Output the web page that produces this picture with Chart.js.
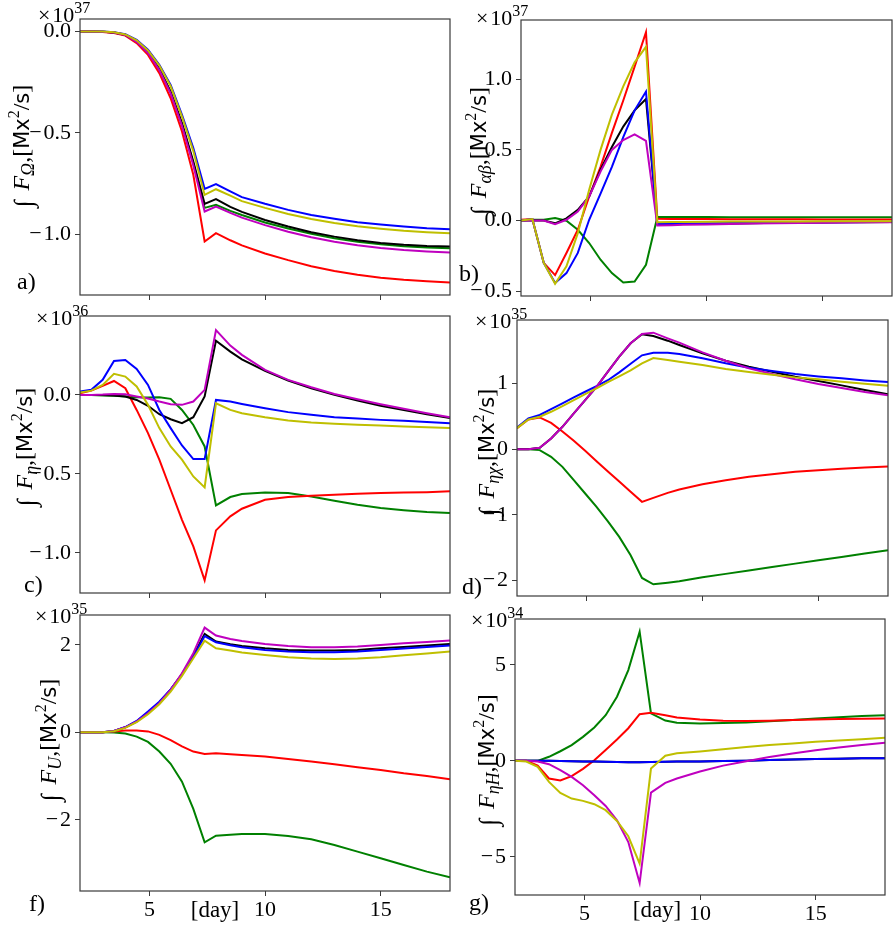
<!DOCTYPE html>
<html>
<head>
<meta charset="utf-8">
<script src="https://cdn.jsdelivr.net/npm/chart.js@4.4.0/dist/chart.umd.min.js"></script>
<style>
  body { margin: 0; background: #fff; }
  #wrap { position: relative; width: 895px; height: 928px; background: #fff; }
  #wrap canvas { position: absolute; left: 0; top: 0; }
</style>
</head>
<body>
<div id="wrap">
  <canvas id="pa" width="895" height="928"></canvas>
  <canvas id="pb" width="895" height="928"></canvas>
  <canvas id="pc" width="895" height="928"></canvas>
  <canvas id="pd" width="895" height="928"></canvas>
  <canvas id="pf" width="895" height="928"></canvas>
  <canvas id="pg" width="895" height="928"></canvas>
</div>
<script>
// time axis [day]
const days = [2.0, 2.49, 2.98, 3.47, 3.96, 4.45, 4.94, 5.43, 5.92, 6.41, 6.9, 7.39, 7.88, 8.5, 9, 10, 11, 12, 13, 14, 15, 16, 17, 18];

// a) F_Omega  (x1e37)
const omBlue    = [0, 0, 0, -0.003, -0.013, -0.041, -0.09, -0.164, -0.263, -0.411, -0.575, -0.776, -0.753, -0.789, -0.817, -0.85, -0.88, -0.905, -0.924, -0.941, -0.952, -0.962, -0.97, -0.975];
const omYellow  = [0, 0, 0, -0.003, -0.014, -0.043, -0.093, -0.168, -0.27, -0.42, -0.59, -0.806, -0.778, -0.81, -0.837, -0.87, -0.9, -0.925, -0.945, -0.961, -0.973, -0.983, -0.99, -0.995];
const omBlack   = [0, 0, -0.001, -0.005, -0.016, -0.049, -0.102, -0.184, -0.296, -0.452, -0.641, -0.85, -0.827, -0.865, -0.89, -0.93, -0.962, -0.99, -1.012, -1.03, -1.043, -1.052, -1.058, -1.061];
const omGreen   = [0, 0, -0.001, -0.005, -0.017, -0.05, -0.104, -0.187, -0.3, -0.458, -0.65, -0.87, -0.855, -0.885, -0.905, -0.942, -0.972, -0.998, -1.02, -1.037, -1.05, -1.059, -1.065, -1.069];
const omMagenta = [0, 0, -0.001, -0.005, -0.017, -0.051, -0.106, -0.19, -0.305, -0.465, -0.66, -0.888, -0.864, -0.895, -0.918, -0.955, -0.988, -1.015, -1.037, -1.055, -1.068, -1.078, -1.085, -1.09];
const omRed     = [0, 0, -0.002, -0.007, -0.02, -0.057, -0.115, -0.205, -0.329, -0.493, -0.707, -1.036, -0.995, -1.03, -1.055, -1.095, -1.128, -1.158, -1.182, -1.2, -1.215, -1.225, -1.232, -1.238];

// b) F_alpha beta  (x1e37)
const abRed     = [0.005, 0.01, -0.30, -0.387, -0.23, -0.066, 0.17, 0.38, 0.62, 0.85, 1.09, 1.333, 0.012, 0.011, 0.011, 0.01, 0.009, 0.009, 0.008, 0.008, 0.007, 0.007, 0.006, 0.006];
const abYellow  = [0, 0.01, -0.30, -0.448, -0.325, -0.09, 0.217, 0.5, 0.75, 0.95, 1.12, 1.23, -0.012, -0.01, -0.01, -0.009, -0.008, -0.008, -0.007, -0.007, -0.006, -0.006, -0.005, -0.005];
const abBlue    = [0, 0.01, -0.30, -0.443, -0.373, -0.23, 0.005, 0.19, 0.38, 0.59, 0.78, 0.913, -0.025, -0.024, -0.023, -0.021, -0.019, -0.017, -0.016, -0.014, -0.013, -0.012, -0.011, -0.01];
const abBlack   = [0, 0, 0, -0.02, 0.015, 0.075, 0.17, 0.36, 0.52, 0.665, 0.78, 0.86, -0.027, -0.026, -0.025, -0.023, -0.021, -0.019, -0.017, -0.015, -0.014, -0.013, -0.012, -0.011];
const abMagenta = [0, 0, 0, -0.026, 0.005, 0.064, 0.17, 0.347, 0.5, 0.57, 0.61, 0.564, -0.035, -0.033, -0.031, -0.028, -0.025, -0.022, -0.02, -0.018, -0.016, -0.014, -0.013, -0.012];
const abGreen   = [0, 0.005, 0.005, 0.017, -0.002, -0.066, -0.16, -0.278, -0.373, -0.439, -0.432, -0.314, 0.024, 0.024, 0.024, 0.024, 0.023, 0.023, 0.023, 0.023, 0.022, 0.022, 0.022, 0.022];

// c) F_eta  (x1e36)
const etRed     = [0.01, 0.027, 0.057, 0.088, 0.042, -0.095, -0.242, -0.41, -0.6, -0.79, -0.958, -1.173, -0.857, -0.768, -0.72, -0.663, -0.646, -0.638, -0.632, -0.625, -0.621, -0.617, -0.615, -0.61];
const etGreen   = [0, 0, -0.004, -0.006, -0.01, -0.015, -0.017, -0.015, -0.025, -0.095, -0.19, -0.326, -0.699, -0.646, -0.627, -0.617, -0.621, -0.642, -0.669, -0.695, -0.716, -0.73, -0.741, -0.747];
const etBlue    = [0.021, 0.032, 0.095, 0.215, 0.221, 0.164, 0.063, -0.095, -0.21, -0.32, -0.406, -0.406, -0.032, -0.042, -0.057, -0.084, -0.109, -0.126, -0.141, -0.149, -0.158, -0.164, -0.171, -0.179];
const etYellow  = [0.015, 0.027, 0.063, 0.133, 0.116, 0.053, -0.063, -0.21, -0.326, -0.41, -0.516, -0.585, -0.053, -0.095, -0.116, -0.141, -0.162, -0.175, -0.183, -0.189, -0.194, -0.2, -0.204, -0.21];
const etBlack   = [0, 0, 0, -0.004, -0.01, -0.032, -0.069, -0.122, -0.154, -0.179, -0.141, -0.01, 0.343, 0.274, 0.225, 0.152, 0.091, 0.042, 0, -0.036, -0.069, -0.095, -0.122, -0.147];
const etMagenta = [0, 0, 0.002, 0.006, 0.004, -0.01, -0.023, -0.042, -0.059, -0.063, -0.042, 0.032, 0.41, 0.312, 0.253, 0.158, 0.095, 0.048, 0.006, -0.027, -0.059, -0.088, -0.116, -0.141];

// d) F_eta chi  (x1e35)
const ecBlue    = [0.33, 0.468, 0.52, 0.61, 0.697, 0.788, 0.874, 0.961, 1.05, 1.17, 1.3, 1.429, 1.469, 1.469, 1.449, 1.383, 1.307, 1.24, 1.19, 1.144, 1.108, 1.078, 1.047, 1.022];
const ecYellow  = [0.32, 0.452, 0.493, 0.569, 0.656, 0.747, 0.839, 0.925, 1.02, 1.11, 1.2, 1.307, 1.388, 1.357, 1.332, 1.281, 1.22, 1.174, 1.134, 1.093, 1.063, 1.027, 0.996, 0.966];
const ecBlack   = [0, 0, 0.02, 0.163, 0.34, 0.544, 0.747, 0.95, 1.18, 1.408, 1.612, 1.749, 1.723, 1.652, 1.586, 1.459, 1.347, 1.256, 1.179, 1.103, 1.037, 0.971, 0.9, 0.834];
const ecMagenta = [0, 0, 0.02, 0.163, 0.34, 0.544, 0.747, 0.95, 1.18, 1.408, 1.612, 1.754, 1.774, 1.688, 1.622, 1.474, 1.347, 1.23, 1.144, 1.063, 0.991, 0.93, 0.869, 0.819];
const ecRed     = [0.32, 0.452, 0.483, 0.4, 0.27, 0.127, -0.025, -0.183, -0.34, -0.493, -0.65, -0.803, -0.742, -0.666, -0.615, -0.534, -0.473, -0.422, -0.381, -0.346, -0.32, -0.3, -0.28, -0.264];
const ecGreen   = [0, 0, -0.015, -0.117, -0.27, -0.473, -0.676, -0.88, -1.1, -1.337, -1.617, -1.962, -2.059, -2.034, -2.013, -1.95, -1.9, -1.848, -1.796, -1.744, -1.693, -1.642, -1.591, -1.54];

// f) F_U  (x1e35)
const uMagenta  = [0, 0, 0, 0.03, 0.114, 0.244, 0.434, 0.663, 0.968, 1.349, 1.806, 2.392, 2.21, 2.133, 2.088, 2.019, 1.973, 1.943, 1.943, 1.958, 1.996, 2.034, 2.065, 2.095];
const uBlack    = [0, 0, 0, 0.03, 0.114, 0.25, 0.445, 0.68, 0.975, 1.33, 1.75, 2.248, 2.072, 2.011, 1.973, 1.92, 1.882, 1.867, 1.867, 1.882, 1.92, 1.95, 1.981, 2.019];
const uBlue     = [0, 0, 0, 0.03, 0.12, 0.26, 0.472, 0.7, 0.98, 1.32, 1.72, 2.2, 2.057, 1.989, 1.943, 1.882, 1.844, 1.829, 1.829, 1.844, 1.882, 1.912, 1.95, 1.981];
const uYellow   = [0, 0, 0, 0.025, 0.1, 0.23, 0.41, 0.64, 0.93, 1.288, 1.69, 2.095, 1.92, 1.867, 1.821, 1.768, 1.714, 1.684, 1.676, 1.684, 1.714, 1.76, 1.798, 1.844];
const uRed      = [0, 0, 0, 0.02, 0.04, 0.04, 0.02, -0.06, -0.18, -0.32, -0.44, -0.495, -0.48, -0.503, -0.518, -0.556, -0.61, -0.67, -0.731, -0.8, -0.861, -0.937, -0.998, -1.074];
const uGreen    = [0, 0, 0, -0.005, -0.03, -0.1, -0.22, -0.44, -0.72, -1.13, -1.75, -2.514, -2.362, -2.339, -2.324, -2.324, -2.37, -2.446, -2.575, -2.728, -2.88, -3.032, -3.185, -3.314];

// g) F_eta H  (x1e34)
const ehGreen   = [0, 0, 0, 0.21, 0.5, 0.817, 1.25, 1.74, 2.38, 3.34, 4.73, 6.73, 2.47, 2.1, 1.98, 1.95, 1.97, 2.0, 2.06, 2.13, 2.2, 2.27, 2.33, 2.38];
const ehRed     = [0, 0, -0.25, -0.92, -1.02, -0.8, -0.42, 0.03, 0.57, 1.11, 1.7, 2.43, 2.5, 2.38, 2.26, 2.157, 2.087, 2.07, 2.087, 2.122, 2.157, 2.174, 2.191, 2.209];
const ehBlue    = [0, 0, 0, 0, -0.01, -0.02, -0.03, -0.04, -0.05, -0.06, -0.07, -0.07, -0.06, -0.05, -0.04, -0.03, -0.01, 0.01, 0.04, 0.07, 0.09, 0.11, 0.13, 0.14];
const ehBlack   = [0, 0, 0, 0, -0.01, -0.02, -0.03, -0.04, -0.05, -0.06, -0.07, -0.07, -0.06, -0.05, -0.04, -0.03, -0.01, 0.01, 0.04, 0.07, 0.09, 0.11, 0.13, 0.14];
const ehYellow  = [0, -0.035, -0.313, -1.096, -1.67, -1.965, -2.087, -2.261, -2.57, -3.13, -3.93, -5.357, -0.4, 0.27, 0.4, 0.49, 0.6, 0.72, 0.82, 0.9, 0.99, 1.06, 1.13, 1.2];
const ehMagenta = [0, 0, -0.035, -0.174, -0.487, -0.835, -1.27, -1.791, -2.35, -3.1, -4.23, -6.365, -1.652, -1.15, -0.92, -0.56, -0.25, -0.02, 0.2, 0.38, 0.55, 0.7, 0.83, 0.94];

const COLORS = { yellow: '#bfbf00', magenta: '#bf00bf', blue: '#0000ff', black: '#000000', red: '#ff0000', green: '#008000' };
const DRAW_ORDER = ['yellow', 'magenta', 'blue', 'black', 'red', 'green']; // first = on top
const SERIF = '"Liberation Serif", "DejaVu Serif", serif';
const SANS = '"DejaVu Sans", sans-serif';

const panels = [
  { id: 'pa', box: [80, 19, 450, 295], y: [-1.30, 0.062], step: 0.5, dec: 1, exp: '37', sub: '\u03A9', letter: 'a)',
    series: { yellow: omYellow, magenta: omMagenta, blue: omBlue, black: omBlack, red: omRed, green: omGreen },
    expPos: [38, 22], letPos: [17, 289], labPos: [29, 146], bottom: false },
  { id: 'pb', box: [521, 20, 892, 296], y: [-0.535, 1.42], step: 0.5, dec: 1, exp: '37', sub: '\u03B1\u03B2', letter: 'b)',
    series: { yellow: abYellow, magenta: abMagenta, blue: abBlue, black: abBlack, red: abRed, green: abGreen },
    expPos: [476, 25], letPos: [459, 281], labPos: [486, 151], bottom: false },
  { id: 'pc', box: [80, 316, 450, 593], y: [-1.253, 0.499], step: 0.5, dec: 1, exp: '36', sub: '\u03B7', letter: 'c)',
    series: { yellow: etYellow, magenta: etMagenta, blue: etBlue, black: etBlack, red: etRed, green: etGreen },
    expPos: [36, 325], letPos: [24, 592], labPos: [32, 447], bottom: false },
  { id: 'pd', box: [517, 320, 888, 596], y: [-2.237, 1.967], step: 1, dec: 0, exp: '35', sub: '\u03B7\u03C7', letter: 'd)',
    series: { yellow: ecYellow, magenta: ecMagenta, blue: ecBlue, black: ecBlack, red: ecRed, green: ecGreen },
    expPos: [475, 328], letPos: [462, 594], labPos: [494, 452], bottom: false },
  { id: 'pf', box: [80, 615, 450, 891], y: [-3.627, 2.68], step: 2, dec: 0, exp: '35', sub: 'U', letter: 'f)',
    series: { yellow: uYellow, magenta: uMagenta, blue: uBlue, black: uBlack, red: uRed, green: uGreen },
    expPos: [35, 623], letPos: [29, 911], labPos: [56, 740], bottom: true, dayX: 215 },
  { id: 'pg', box: [515, 619, 885, 895], y: [-6.99, 7.39], step: 5, dec: 0, exp: '34', sub: '\u03B7H', letter: 'g)',
    series: { yellow: ehYellow, magenta: ehMagenta, blue: ehBlue, black: ehBlack, red: ehRed, green: ehGreen },
    expPos: [471, 627], letPos: [469, 910], labPos: [494, 760], bottom: true, dayX: 657 }
];

function fmt(v, dec) {
  if (Math.abs(v) < 1e-9) v = 0;
  return v.toFixed(dec).replace('-', '\u2212\u200A');
}

function drawYLabel(ctx, p) {
  const pieces = [
    { t: '\u222B', f: '26px ' + SERIF, dy: 3 },
    { t: '\u2009\u2009', f: '24px ' + SERIF, dy: 0 },
    { t: 'F', f: 'italic 24px ' + SERIF, dy: 0 },
    { t: p.sub, f: 'italic 18px ' + SERIF, dy: 5 },
    { t: ',', f: '24px ' + SERIF, dy: 0 },
    { t: '[', f: '24px ' + SERIF, dy: 0 },
    { t: 'Mx', f: '21px ' + SANS, dy: 0 },
    { t: '2', f: '16px ' + SERIF, dy: -10 },
    { t: '/', f: '24px ' + SERIF, dy: 0 },
    { t: 's', f: '21px ' + SANS, dy: 0 },
    { t: ']', f: '24px ' + SERIF, dy: 0 }
  ];
  let total = 0;
  pieces.forEach(pc => { ctx.font = pc.f; pc.w = ctx.measureText(pc.t).width; total += pc.w; });
  ctx.save();
  ctx.translate(p.labPos[0], p.labPos[1]);
  ctx.rotate(-Math.PI / 2);
  ctx.textAlign = 'left';
  ctx.textBaseline = 'alphabetic';
  let x = -total / 2;
  pieces.forEach(pc => { ctx.font = pc.f; ctx.fillText(pc.t, x, pc.dy); x += pc.w; });
  ctx.restore();
}

function decoPlugin(p) {
  return {
    id: 'deco',
    afterDraw(chart) {
      const ctx = chart.ctx, a = chart.chartArea;
      ctx.save();
      ctx.strokeStyle = '#3a3a3a';
      ctx.lineWidth = 1.2;
      ctx.strokeRect(a.left, a.top, a.right - a.left, a.bottom - a.top);
      ctx.fillStyle = '#000';
      ctx.textAlign = 'left';
      ctx.textBaseline = 'alphabetic';
      ctx.font = '22px ' + SERIF;
      ctx.fillText('\u00D7\u200A10', p.expPos[0], p.expPos[1]);
      const w = ctx.measureText('\u00D7\u200A10').width;
      ctx.font = '16px ' + SERIF;
      ctx.fillText(p.exp, p.expPos[0] + w, p.expPos[1] - 9);
      ctx.font = '24px ' + SERIF;
      ctx.fillText(p.letter, p.letPos[0], p.letPos[1]);
      if (p.dayX) {
        ctx.font = '23px ' + SERIF;
        ctx.textAlign = 'center';
        ctx.fillText('[day]', p.dayX, 917);
      }
      drawYLabel(ctx, p);
      ctx.restore();
    }
  };
}

panels.forEach(p => {
  const datasets = DRAW_ORDER.map(k => ({
    label: k,
    data: days.map((d, i) => ({ x: d, y: p.series[k][i] })),
    borderColor: COLORS[k],
    borderWidth: 2,
    pointRadius: 0,
    tension: 0,
    fill: false
  }));
  const ctx = document.getElementById(p.id).getContext('2d');
  new Chart(ctx, {
    type: 'line',
    data: { datasets: datasets },
    options: {
      responsive: false,
      animation: false,
      devicePixelRatio: 1,
      events: [],
      layout: { padding: { left: p.box[0] - 80, top: p.box[1], right: 895 - p.box[2], bottom: 928 - p.box[3] - 30 } },
      plugins: { legend: { display: false }, tooltip: { enabled: false } },
      scales: {
        x: {
          type: 'linear', min: 2, max: 18,
          afterFit: s => { s.height = 30; },
          border: { display: false },
          grid: { display: true, drawOnChartArea: false, drawTicks: true, tickLength: 5, color: '#3a3a3a' },
          ticks: { display: p.bottom, stepSize: 5, includeBounds: false, padding: 1, color: '#000',
                   font: { family: SERIF, size: 22 }, maxRotation: 0 }
        },
        y: {
          type: 'linear', position: 'left', min: p.y[0], max: p.y[1],
          afterFit: s => { s.width = 80; },
          border: { display: false },
          grid: { display: true, drawOnChartArea: false, drawTicks: true, tickLength: 5, color: '#3a3a3a' },
          ticks: { stepSize: p.step, includeBounds: false, padding: 4, color: '#000',
                   font: { family: SERIF, size: 22 }, callback: v => fmt(v, p.dec) }
        }
      }
    },
    plugins: [decoPlugin(p)]
  });
});
</script>
</body>
</html>
